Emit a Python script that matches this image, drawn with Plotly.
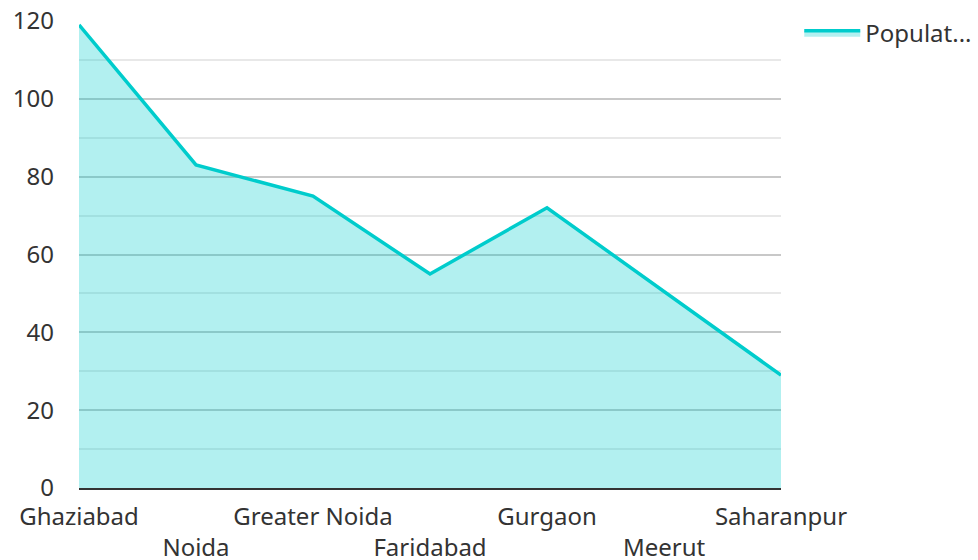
import plotly.graph_objects as go

cities = ["Ghaziabad", "Noida", "Greater Noida", "Faridabad", "Gurgaon", "Meerut", "Saharanpur"]
population = [119, 83, 75, 55, 72, 50.5, 29]
series_name = "Populat..."
tick_labels = [c if i % 2 == 0 else "<br>" + c for i, c in enumerate(cities)]

fig = go.Figure()
fig.add_trace(go.Scatter(
    x=cities, y=population, name=series_name, mode="lines",
    line=dict(color="#00cccc", width=3.5),
    fill="tozeroy", fillcolor="rgba(0,204,204,0.3)",
    showlegend=True,
))

fig.update_layout(
    width=978, height=560,
    margin=dict(l=79, r=197, t=21, b=72, autoexpand=False),
    paper_bgcolor="white", plot_bgcolor="white",
    font=dict(family="Noto Sans", size=24, color="#333333"),
    legend=dict(x=1.026, y=1.022, xanchor="left", yanchor="top",
                font=dict(size=24, color="#333333"), itemwidth=56),
    xaxis=dict(type="category", range=[0, 6], tickvals=cities, ticktext=tick_labels,
               showgrid=False, showline=True, linecolor="#333333", linewidth=2,
               ticks="", zeroline=False, tickangle=0, automargin=False, ticklabelstandoff=6),
    yaxis=dict(range=[0, 120], dtick=20, showgrid=True, gridcolor="#c8c8c8", gridwidth=1.5,
               minor=dict(dtick=10, showgrid=True, gridcolor="#e8e8e8", gridwidth=1.5),
               zeroline=False, showline=False, ticks="", ticklabelstandoff=24, automargin=False),
)

fig.write_html("out.html", config={"displayModeBar": False},
               post_script="document.body.style.margin='0';document.body.style.overflow='hidden';")
